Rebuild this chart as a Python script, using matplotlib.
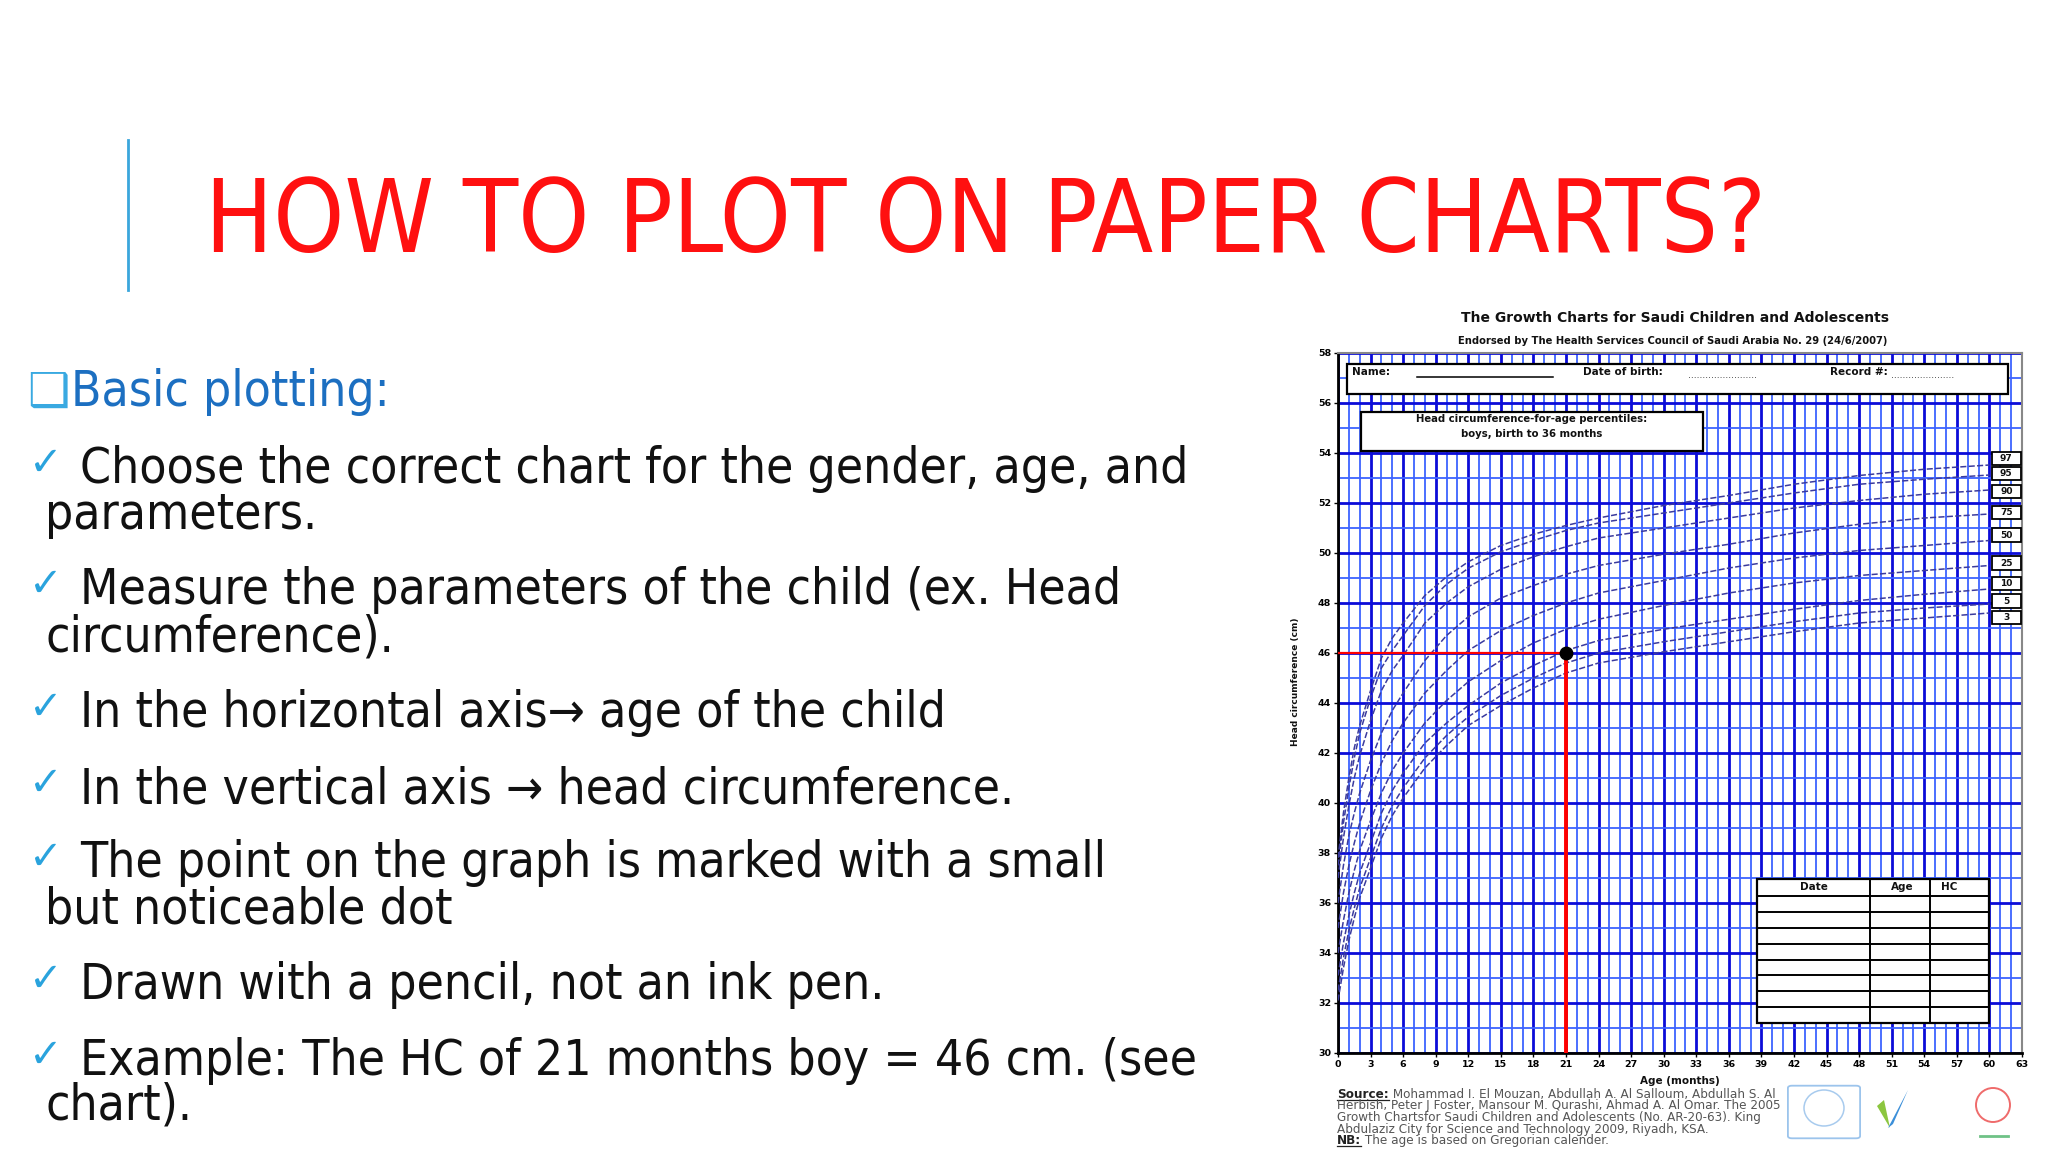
import matplotlib
matplotlib.use('Agg')
import matplotlib.pyplot as plt
from matplotlib import font_manager as fm
from matplotlib.font_manager import FontProperties
from matplotlib.patches import Rectangle, Polygon, Ellipse, FancyBboxPatch
from matplotlib.lines import Line2D

W, H = 2048, 1152

# ---- data ----
months = [0, 0.5, 1, 1.5, 2, 3, 4, 5, 6, 8, 10, 12, 15, 18, 21, 24, 30, 36, 42, 48, 54, 60]
p97 = [37.8, 39.6, 41.0, 42.2, 43.1, 44.5, 45.8, 46.6, 47.2, 48.3, 49.05, 49.65, 50.3, 50.75, 51.1, 51.4, 51.9, 52.3, 52.75, 53.1, 53.35, 53.52]
p95 = [37.5, 39.2, 40.6, 41.8, 42.8, 44.2, 45.4, 46.1, 46.7, 47.9, 48.75, 49.39, 50.05, 50.5, 50.9, 51.2, 51.6, 52.0, 52.4, 52.75, 52.95, 53.12]
p90 = [37.0, 38.6, 39.9, 41.0, 41.9, 43.3, 44.5, 45.3, 45.9, 47.2, 48.0, 48.65, 49.35, 49.85, 50.25, 50.6, 51.0, 51.4, 51.8, 52.1, 52.35, 52.52]
p75 = [36.0, 37.5, 38.7, 39.6, 40.4, 41.7, 42.8, 43.7, 44.4, 45.7, 46.7, 47.45, 48.2, 48.7, 49.15, 49.5, 49.95, 50.35, 50.8, 51.15, 51.4, 51.56]
p50 = [35.0, 36.4, 37.5, 38.4, 39.2, 40.5, 41.6, 42.5, 43.2, 44.4, 45.3, 46.1, 46.9, 47.5, 48.0, 48.4, 48.9, 49.4, 49.8, 50.1, 50.3, 50.5]
p25 = [34.0, 35.3, 36.4, 37.3, 38.1, 39.3, 40.4, 41.3, 42.0, 43.2, 44.1, 44.85, 45.7, 46.4, 46.95, 47.35, 47.9, 48.4, 48.8, 49.1, 49.3, 49.5]
p10 = [33.1, 34.4, 35.5, 36.4, 37.2, 38.4, 39.6, 40.5, 41.2, 42.4, 43.2, 43.9, 44.8, 45.5, 46.1, 46.5, 46.95, 47.35, 47.75, 48.1, 48.35, 48.56]
p5 = [32.5, 33.8, 34.9, 35.8, 36.6, 37.8, 39.0, 39.9, 40.6, 41.8, 42.7, 43.45, 44.3, 45.0, 45.6, 46.0, 46.45, 46.85, 47.25, 47.6, 47.8, 47.96]
p3 = [32.1, 33.4, 34.5, 35.4, 36.2, 37.4, 38.6, 39.5, 40.2, 41.4, 42.3, 43.1, 43.9, 44.6, 45.2, 45.6, 46.05, 46.45, 46.85, 47.2, 47.4, 47.6]
curves = [p97, p95, p90, p75, p50, p25, p10, p5, p3]
percentiles = ['97', '95', '90', '75', '50', '25', '10', '5', '3']
label_y = [53.79, 53.17, 52.46, 51.61, 50.72, 49.6, 48.77, 48.08, 47.41]

example_age = 21
example_hc = 46

x_ticks = list(range(0, 64, 3))
y_ticks = list(range(30, 59, 2))

slide_title = 'HOW TO PLOT ON PAPER CHARTS?'
heading = 'Basic plotting:'
bullets = [
    ['Choose the correct chart for the gender, age, and', 'parameters.'],
    ['Measure the parameters of the child (ex. Head', 'circumference).'],
    ['In the horizontal axis\u2192 age of the child'],
    ['In the vertical axis \u2192 head circumference.'],
    ['The point on the graph is marked with a small', 'but noticeable dot'],
    ['Drawn with a pencil, not an ink pen.'],
    ['Example: The HC of 21 months boy = 46 cm. (see', 'chart).'],
]
bullet_baselines = [[483, 529], [604, 651], [727], [803], [877, 924], [999], [1075, 1119]]

chart_title = 'The Growth Charts for Saudi Children and Adolescents'
chart_sub = 'Endorsed by The Health Services Council of Saudi Arabia No. 29 (24/6/2007)'
table_cols = ['Date', 'Age', 'HC']
table_rows = 8
footer = [
    ('Source:', ' Mohammad I. El Mouzan, Abdullah A. Al Salloum, Abdullah S. Al'),
    ('', 'Herbish, Peter J Foster, Mansour M. Qurashi, Ahmad A. Al Omar. The 2005'),
    ('', 'Growth Chartsfor Saudi Children and Adolescents (No. AR-20-63). King'),
    ('', 'Abdulaziz City for Science and Technology 2009, Riyadh, KSA.'),
    ('NB:', ' The age is based on Gregorian calender.'),
]


def find_font(cands):
    for name, stretch in cands:
        for f in fm.fontManager.ttflist:
            fn = f.fname.lower()
            if 'bold' in fn or 'italic' in fn or 'oblique' in fn:
                continue
            if f.name == name and (stretch is None or f.stretch == stretch):
                return f.fname
    return None


cond = find_font([('Liberation Sans Narrow', None), ('DejaVu Sans', 'condensed'),
                  ('DejaVu Sans Condensed', None), ('Roboto Condensed', None)])


def cprop(size):
    if cond:
        return FontProperties(fname=cond, size=size)
    return FontProperties(family='DejaVu Sans', size=size)


def fx(x):
    return x / W


def fy(y):
    return 1 - y / H


fig = plt.figure(figsize=(W / 100, H / 100), dpi=100)
fig.patch.set_facecolor('white')
renderer = fig.canvas.get_renderer()


def fit_width(t, target):
    bb = t.get_window_extent(renderer)
    t.set_fontsize(t.get_fontsize() * target / bb.width)
    return t.get_fontsize()


# ---- slide header ----
fig.add_artist(Line2D([fx(128), fx(128)], [fy(140), fy(290)], color='#3aa6dc', lw=2))
t = fig.text(fx(205), fy(252), slide_title, fontproperties=cprop(80), color='#ff1010', va='baseline')
fit_width(t, 1561)

fig.text(fx(27), fy(406), '\u2751', family='DejaVu Sans', fontsize=34, color='#39a9e1', va='baseline')
t = fig.text(fx(71), fy(406), heading, fontproperties=cprop(34), color='#1c6fc1', va='baseline')
fit_width(t, 319)

# ---- bullets ----
t = fig.text(fx(80), fy(483), bullets[0][0], fontproperties=cprop(34), color='#111111', va='baseline')
body_size = fit_width(t, 1110)
t.remove()
for lines, bases in zip(bullets, bullet_baselines):
    fig.text(fx(29), fy(bases[0] - 8), '\u2713', family='DejaVu Sans', fontsize=29,
             color='#2aa3dd', va='baseline')
    for i, (ln, b) in enumerate(zip(lines, bases)):
        fig.text(fx(80 if i == 0 else 45), fy(b), ln, fontproperties=cprop(body_size),
                 color='#111111', va='baseline')

# ---- growth chart ----
ax = fig.add_axes([1338 / W, 1 - 1053 / H, (2022 - 1338) / W, (1053 - 353) / H])
ax.set_xlim(0, 63)
ax.set_ylim(30, 58)
ax.set_xticks(x_ticks)
ax.set_xticks(range(0, 64), minor=True)
ax.set_yticks(y_ticks)
ax.set_yticks(range(30, 59), minor=True)
ax.set_axisbelow(True)
ax.grid(which='minor', color='#3d63ff', lw=1.3)
ax.grid(which='major', color='#0b0bd8', lw=2.0)
ax.tick_params(which='minor', length=0)
ax.tick_params(which='major', length=3, width=1, color='black', pad=2, labelsize=6.8)
for lab in ax.get_xticklabels() + ax.get_yticklabels():
    lab.set_fontweight('bold')
for s in ['left', 'bottom']:
    ax.spines[s].set_color('black')
    ax.spines[s].set_linewidth(2)
for s in ['top', 'right']:
    ax.spines[s].set_color('#888888')
    ax.spines[s].set_linewidth(1.5)

for c in curves:
    ax.plot(months, c, color='#3b3b9e', lw=1.1, ls=(0, (4, 1.5)), zorder=3)

ax.plot([0, example_age], [example_hc, example_hc], color='#ff0000', lw=1.6, zorder=4)
ax.plot([example_age, example_age], [30, example_hc], color='#ff0000', lw=2.8, zorder=4)
ax.plot(example_age, example_hc, 'o', color='black', ms=9, zorder=5)

bold = dict(fontweight='bold', family='DejaVu Sans', color='#111111')

# name box
ax.add_patch(Rectangle((0.8, 56.35), 60.9, 1.2, fc='white', ec='black', lw=1.6, zorder=2))
ax.text(1.3, 57.25, 'Name:', fontsize=7.5, va='center', zorder=3, **bold)
ax.plot([7.3, 19.8], [57.05, 57.05], color='black', lw=1.1, zorder=3)
ax.text(22.6, 57.25, 'Date of birth:', fontsize=7.5, va='center', zorder=3, **bold)
ax.text(32.2, 57.1, '.' * 24, fontsize=6.5, va='center', zorder=3, color='#111111')
ax.text(45.3, 57.25, 'Record #:', fontsize=7.5, va='center', zorder=3, **bold)
ax.text(50.9, 57.1, '.' * 22, fontsize=6.5, va='center', zorder=3, color='#111111')

# percentile title box
ax.add_patch(Rectangle((2.1, 54.08), 31.5, 1.57, fc='white', ec='black', lw=1.6, zorder=2))
ax.text(17.85, 55.36, 'Head circumference-for-age percentiles:', fontsize=7.3, ha='center',
        va='center', zorder=3, **bold)
ax.text(17.85, 54.76, 'boys, birth to 36 months', fontsize=7.3, ha='center', va='center',
        zorder=3, **bold)

# percentile labels
for lab, yy in zip(percentiles, label_y):
    ax.add_patch(Rectangle((60.2, yy - 0.26), 2.7, 0.52, fc='white', ec='black', lw=1.3, zorder=4))
    ax.text(61.55, yy, lab, fontsize=6.5, ha='center', va='center', zorder=5, **bold)

# record table
tx0, tx1, tc1, tc2 = 38.6, 60.0, 49.0, 54.5
ttop, thead, tbot = 36.96, 36.28, 31.2
ax.add_patch(Rectangle((tx0, tbot), tx1 - tx0, ttop - tbot, fc='white', ec='black', lw=1.6, zorder=2))
rh = (thead - tbot) / table_rows
for i in range(table_rows):
    yy = thead - i * rh
    ax.plot([tx0, tx1], [yy, yy], color='black', lw=1.4, zorder=3)
for xx in [tc1, tc2]:
    ax.plot([xx, xx], [tbot, ttop], color='black', lw=1.4, zorder=3)
for name, xx in zip(table_cols, [43.8, 52.0, 56.3]):
    ax.text(xx, (ttop + thead) / 2, name, fontsize=7.5, ha='center', va='center', zorder=3, **bold)

ax.set_xlabel('Age (months)', fontsize=7.5, **bold)
ax.xaxis.set_label_coords(0.5, -0.033)
ax.set_ylabel('Head circumference (cm)', fontsize=6.5, **bold)
ax.yaxis.set_label_coords(-0.056, 0.53)

fig.text(fx(1675), fy(322), chart_title, ha='center', va='baseline', fontsize=10, **bold)
fig.text(fx(1673), fy(344), chart_sub, ha='center', va='baseline', fontsize=7.2, **bold)

# footer
fbase = [1098, 1109.5, 1121, 1132.5, 1144]
t = fig.text(fx(1337), fy(fbase[0]), footer[0][0] + footer[0][1], family='DejaVu Sans',
             fontsize=7, va='baseline')
fsize = fit_width(t, 433)
t.remove()
for (head, rest), b in zip(footer, fbase):
    x = 1337
    if head:
        th = fig.text(fx(x), fy(b), head, family='DejaVu Sans', fontweight='bold', fontsize=fsize,
                      va='baseline', color='#222222')
        bb = th.get_window_extent(renderer)
        fig.add_artist(Line2D([fx(x), fx(x + bb.width)], [fy(b + 2), fy(b + 2)], color='#222222', lw=0.9))
        x += bb.width
    fig.text(fx(x), fy(b), rest, family='DejaVu Sans', fontsize=fsize, va='baseline', color='#555555')

# logos (rough sketches)
fig.add_artist(FancyBboxPatch((fx(1792), fy(1136)), fx(64), 48 / H,
                              boxstyle='round,pad=0.002', fc='none', ec='#9cc4ec', lw=1.3,
                              transform=fig.transFigure))
fig.add_artist(Ellipse((fx(1824), fy(1108)), fx(40), 36 / H, fc='none', ec='#a8cbee', lw=1.1,
                       transform=fig.transFigure))
fig.add_artist(Polygon([[fx(1877), fy(1106)], [fx(1884), fy(1100)], [fx(1890), fy(1128)]],
                       closed=True, fc='#8cc63f', ec='none', transform=fig.transFigure))
fig.add_artist(Polygon([[fx(1888), fy(1128)], [fx(1908), fy(1090)], [fx(1893), fy(1124)]],
                       closed=True, fc='#3b8fd9', ec='none', transform=fig.transFigure))
fig.add_artist(Ellipse((fx(1993), fy(1105)), fx(34), 34 / H, fc='none', ec='#ef6b6b', lw=1.4,
                       transform=fig.transFigure))
fig.add_artist(Line2D([fx(1980), fx(2008)], [fy(1136), fy(1136)], color='#6fc286', lw=2))

fig.savefig('out.png', dpi=100, facecolor='white')
